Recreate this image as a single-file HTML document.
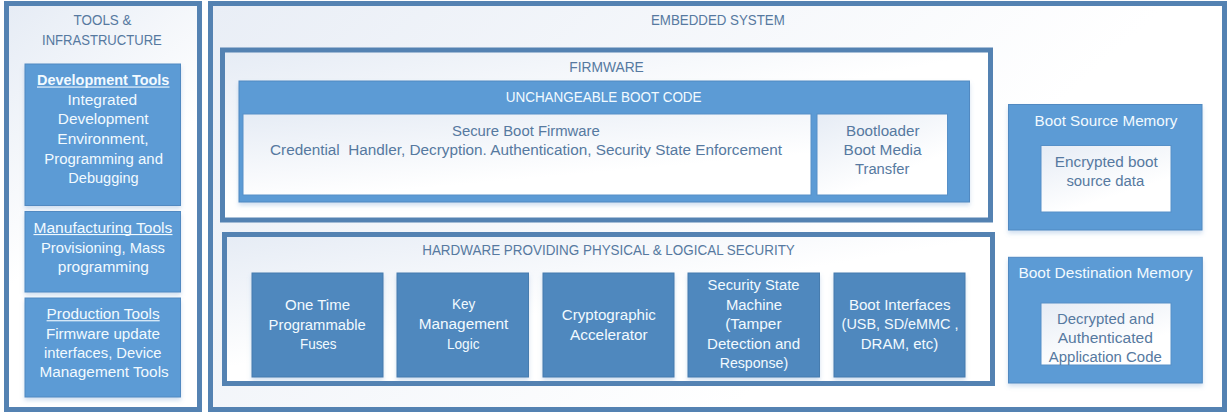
<!DOCTYPE html>
<html><head><meta charset="utf-8"><style>
html,body{margin:0;padding:0;background:#fff;overflow:hidden;width:1231px;height:413px;}
svg{display:block;}
text{font-family:"Liberation Sans",sans-serif;white-space:pre;}
</style></head><body>
<svg xml:space="preserve" width="1231" height="413" viewBox="0 0 1231 413">
<defs>
<linearGradient id="gL" x1="0" y1="0" x2="0.25" y2="0.6"><stop offset="0" stop-color="#E6ECF5"/><stop offset="1" stop-color="#FFFFFF"/></linearGradient>
<linearGradient id="gE" x1="0" y1="0" x2="0.8" y2="0.34"><stop offset="0" stop-color="#E9EEF6"/><stop offset="1" stop-color="#FFFFFF"/></linearGradient>
<linearGradient id="gF" x1="0" y1="0" x2="0.45" y2="0.5"><stop offset="0" stop-color="#E6ECF5"/><stop offset="1" stop-color="#FFFFFF"/></linearGradient>
<linearGradient id="gH" x1="0" y1="0" x2="0.45" y2="0.5"><stop offset="0" stop-color="#E6ECF5"/><stop offset="1" stop-color="#FFFFFF"/></linearGradient>
<linearGradient id="gW" x1="0" y1="0" x2="0.5" y2="0.8"><stop offset="0" stop-color="#E6ECF5"/><stop offset="1" stop-color="#FFFFFF"/></linearGradient>
<filter id="sh" x="-10%" y="-10%" width="120%" height="130%"><feGaussianBlur in="SourceAlpha" stdDeviation="2" result="b"/><feOffset in="b" dx="0" dy="2.5" result="o"/><feFlood flood-color="#5B8FCB" flood-opacity="0.28"/><feComposite in2="o" operator="in" result="s"/><feMerge><feMergeNode in="s"/><feMergeNode in="SourceGraphic"/></feMerge></filter>
</defs>
<rect x="0" y="0" width="1231.00" height="413.00" fill="#FFFFFF" />
<rect x="4" y="1" width="198.00" height="411.00" fill="#5482B2" />
<rect x="9" y="6" width="188.00" height="401.00" fill="url(#gL)" />
<rect x="208" y="1" width="1019.00" height="411.00" fill="#5482B2" />
<rect x="213" y="6" width="1009.00" height="401.00" fill="url(#gE)" />
<rect x="220" y="47.5" width="773.00" height="175.00" fill="#5482B2" />
<rect x="225" y="52.5" width="763.00" height="165.00" fill="url(#gF)" />
<rect x="222" y="232" width="773.00" height="154.00" fill="#5482B2" />
<rect x="227" y="237" width="763.00" height="144.00" fill="url(#gH)" />
<rect x="25" y="64" width="155.50" height="141.50" fill="#5B9BD5" filter="url(#sh)" stroke="#5189C1" stroke-width="1"/>
<rect x="25" y="211.5" width="155.50" height="80.50" fill="#5B9BD5" filter="url(#sh)" stroke="#5189C1" stroke-width="1"/>
<rect x="25" y="298" width="155.50" height="99.00" fill="#5B9BD5" filter="url(#sh)" stroke="#5189C1" stroke-width="1"/>
<rect x="239" y="81" width="730.50" height="121.00" fill="#5B9BD5" filter="url(#sh)" stroke="#5189C1" stroke-width="1"/>
<rect x="243" y="114" width="568.00" height="81.00" fill="url(#gW)" stroke="#5690C8" stroke-width="1"/>
<rect x="817" y="114" width="130.50" height="81.00" fill="url(#gW)" stroke="#5690C8" stroke-width="1"/>
<rect x="1008.5" y="104.5" width="193.50" height="125.50" fill="#5B9BD5" filter="url(#sh)" stroke="#5189C1" stroke-width="1"/>
<rect x="1041" y="145.5" width="130.00" height="66.50" fill="url(#gW)" stroke="#5690C8" stroke-width="1"/>
<rect x="1008.5" y="257.3" width="193.80" height="125.70" fill="#5B9BD5" filter="url(#sh)" stroke="#5189C1" stroke-width="1"/>
<rect x="1041" y="303" width="130.00" height="62.00" fill="url(#gW)" stroke="#5690C8" stroke-width="1"/>
<rect x="252" y="273" width="131.00" height="104.00" fill="#4F88BE" filter="url(#sh)" stroke="#467BAE" stroke-width="1"/>
<rect x="397" y="273" width="131.50" height="104.00" fill="#4F88BE" filter="url(#sh)" stroke="#467BAE" stroke-width="1"/>
<rect x="543" y="273" width="131.00" height="104.00" fill="#4F88BE" filter="url(#sh)" stroke="#467BAE" stroke-width="1"/>
<rect x="688" y="273" width="131.50" height="104.00" fill="#4F88BE" filter="url(#sh)" stroke="#467BAE" stroke-width="1"/>
<rect x="834" y="273" width="131.00" height="104.00" fill="#4F88BE" filter="url(#sh)" stroke="#467BAE" stroke-width="1"/>
<text transform="translate(73.60,24.8) scale(0.8775,1)" style="font-size:15.3px;fill:#5679A0">TOOLS &amp;</text>
<text transform="translate(42.00,44.5) scale(0.8553,1)" style="font-size:15.3px;fill:#5679A0">INFRASTRUCTURE</text>
<text transform="translate(37.00,85) scale(0.9654,1)" style="font-size:15px;font-weight:bold;fill:#F2FAFF">Development Tools</text>
<rect x="37" y="86.5" width="132.50" height="1.10" fill="#F2FAFF" />
<text transform="translate(67.50,104.9) scale(1.0326,1)" style="font-size:15px;fill:#F2FAFF">Integrated</text>
<text transform="translate(57.80,124.3) scale(1.0277,1)" style="font-size:15px;fill:#F2FAFF">Development</text>
<text transform="translate(57.30,143.8) scale(1.0334,1)" style="font-size:15px;fill:#F2FAFF">Environment,</text>
<text transform="translate(44.20,163.5) scale(0.9962,1)" style="font-size:15px;fill:#F2FAFF">Programming and</text>
<text transform="translate(68.30,183.3) scale(0.9697,1)" style="font-size:15px;fill:#F2FAFF">Debugging</text>
<text transform="translate(33.50,232.5) scale(1.0377,1)" style="font-size:15px;fill:#F2FAFF">Manufacturing Tools</text>
<rect x="33.5" y="234" width="139.00" height="1.10" fill="#F2FAFF" />
<text transform="translate(41.00,253.2) scale(0.9853,1)" style="font-size:15px;fill:#F2FAFF">Provisioning, Mass</text>
<text transform="translate(57.80,272.1) scale(1.0311,1)" style="font-size:15px;fill:#F2FAFF">programming</text>
<text transform="translate(46.60,319) scale(1.0231,1)" style="font-size:15px;fill:#F2FAFF">Production Tools</text>
<rect x="46.6" y="320.2" width="113.10" height="1.10" fill="#F2FAFF" />
<text transform="translate(45.90,338.5) scale(1.0133,1)" style="font-size:15px;fill:#F2FAFF">Firmware update</text>
<text transform="translate(44.00,358.3) scale(0.9870,1)" style="font-size:15px;fill:#F2FAFF">interfaces, Device</text>
<text transform="translate(39.50,377) scale(1.0225,1)" style="font-size:15px;fill:#F2FAFF">Management Tools</text>
<text transform="translate(651.00,24.8) scale(0.8706,1)" style="font-size:15.3px;fill:#5679A0">EMBEDDED SYSTEM</text>
<text transform="translate(569.30,72) scale(0.9013,1)" style="font-size:15.3px;fill:#5679A0">FIRMWARE</text>
<text transform="translate(505.70,101.6) scale(0.8815,1)" style="font-size:15.3px;fill:#F2FAFF">UNCHANGEABLE BOOT CODE</text>
<text transform="translate(452.00,136) scale(0.9916,1)" style="font-size:15px;fill:#5679A0">Secure Boot Firmware</text>
<text transform="translate(270.00,154.8) scale(1.0211,1)" style="font-size:15px;fill:#5679A0">Credential  Handler, Decryption. Authentication, Security State Enforcement</text>
<text transform="translate(846.00,135.6) scale(1.0138,1)" style="font-size:15px;fill:#5679A0">Bootloader</text>
<text transform="translate(843.60,155) scale(1.0290,1)" style="font-size:15px;fill:#5679A0">Boot Media</text>
<text transform="translate(855.00,174.4) scale(0.9846,1)" style="font-size:15px;fill:#5679A0">Transfer</text>
<text transform="translate(1034.60,125.7) scale(1.0146,1)" style="font-size:15px;fill:#F2FAFF">Boot Source Memory</text>
<text transform="translate(1054.80,166.7) scale(1.0213,1)" style="font-size:15px;fill:#5679A0">Encrypted boot</text>
<text transform="translate(1066.40,185.8) scale(0.9930,1)" style="font-size:15px;fill:#5679A0">source data</text>
<text transform="translate(1018.40,277.8) scale(1.0335,1)" style="font-size:15px;fill:#F2FAFF">Boot Destination Memory</text>
<text transform="translate(1057.00,323.7) scale(0.9949,1)" style="font-size:15px;fill:#5679A0">Decrypted and</text>
<text transform="translate(1057.70,343) scale(1.0381,1)" style="font-size:15px;fill:#5679A0">Authenticated</text>
<text transform="translate(1048.80,362.2) scale(0.9965,1)" style="font-size:15px;fill:#5679A0">Application Code</text>
<text transform="translate(422.20,255.4) scale(0.8792,1)" style="font-size:15.3px;fill:#5679A0">HARDWARE PROVIDING PHYSICAL &amp; LOGICAL SECURITY</text>
<text transform="translate(285.02,309.5) scale(1.0000,1)" style="font-size:15px;fill:#F2FAFF">One Time</text>
<text transform="translate(268.60,329.5) scale(0.9888,1)" style="font-size:15px;fill:#F2FAFF">Programmable</text>
<text transform="translate(299.90,349.2) scale(0.8995,1)" style="font-size:15px;fill:#F2FAFF">Fuses</text>
<text transform="translate(452.00,309.4) scale(0.9031,1)" style="font-size:15px;fill:#F2FAFF">Key</text>
<text transform="translate(418.70,329.3) scale(1.0251,1)" style="font-size:15px;fill:#F2FAFF">Management</text>
<text transform="translate(446.90,349.2) scale(0.9093,1)" style="font-size:15px;fill:#F2FAFF">Logic</text>
<text transform="translate(561.80,319.6) scale(1.0086,1)" style="font-size:15px;fill:#F2FAFF">Cryptographic</text>
<text transform="translate(570.00,339.7) scale(1.0250,1)" style="font-size:15px;fill:#F2FAFF">Accelerator</text>
<text transform="translate(707.60,290) scale(0.9850,1)" style="font-size:15px;fill:#F2FAFF">Security State</text>
<text transform="translate(726.00,309.5) scale(0.9894,1)" style="font-size:15px;fill:#F2FAFF">Machine</text>
<text transform="translate(725.20,329.4) scale(1.0245,1)" style="font-size:15px;fill:#F2FAFF">(Tamper</text>
<text transform="translate(707.10,348.9) scale(1.0059,1)" style="font-size:15px;fill:#F2FAFF">Detection and</text>
<text transform="translate(719.70,368.4) scale(0.9435,1)" style="font-size:15px;fill:#F2FAFF">Response)</text>
<text transform="translate(848.90,309.5) scale(1.0074,1)" style="font-size:15px;fill:#F2FAFF">Boot Interfaces</text>
<text transform="translate(841.60,329.3) scale(0.9618,1)" style="font-size:15px;fill:#F2FAFF">(USB, SD/eMMC ,</text>
<text transform="translate(860.73,349.3) scale(1.0000,1)" style="font-size:15px;fill:#F2FAFF">DRAM, etc)</text>
</svg>
</body></html>
